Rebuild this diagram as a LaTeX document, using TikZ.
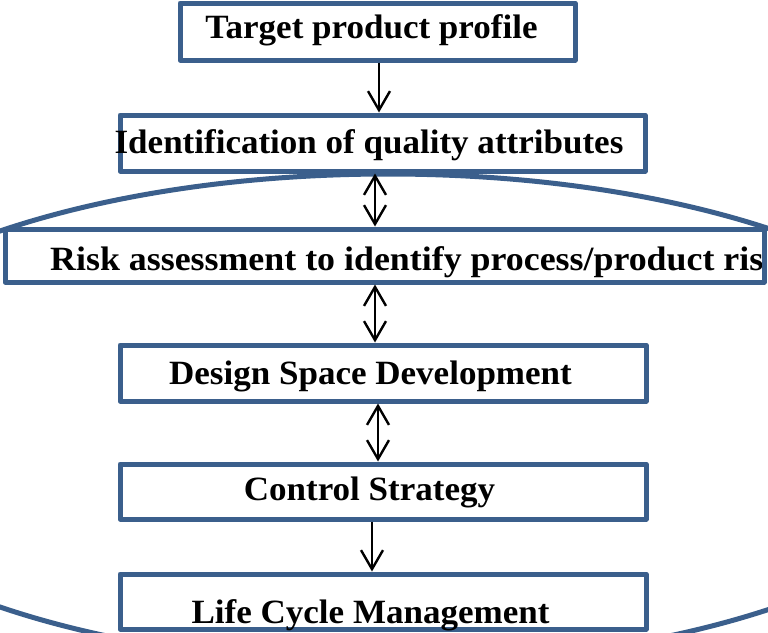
\documentclass[tikz,border=0pt]{standalone}
\usepackage{fontspec}
\newfontfamily\boxfont[FakeStretch=1.03]{Liberation Serif}
\newfontfamily\boxfontwide[FakeStretch=1.055]{Liberation Serif}
\usetikzlibrary{arrows.meta}
\definecolor{boxblue}{RGB}{59,95,140}
\begin{document}
\begin{tikzpicture}[x=1pt,y=-1pt,
 qbox/.style={draw=boxblue, line width=5pt, fill=white, inner sep=0pt, line join=round, rectangle},
 qtext/.style={font=\boxfont\bfseries\fontsize{34}{40}\selectfont, inner sep=0pt, text=black},
 arr/.style={draw=black, line width=2.4pt, -{Straight Barb[length=19pt,width=22pt]}},
 darr/.style={draw=black, line width=2.4pt, {Straight Barb[length=19pt,width=22pt]}-{Straight Barb[length=19pt,width=22pt]}}]
\useasboundingbox (0,0) rectangle (768,632);
\draw[boxblue, line width=5pt] (388,419) ellipse [x radius=605, y radius=245];
\node[qbox, minimum width=395pt, minimum height=57pt] (b1) at (377.5,31.5) {};
\node[qbox, minimum width=525pt, minimum height=56pt] (b2) at (382.5,143) {};
\node[qbox, minimum width=759pt, minimum height=53pt] (b3) at (384.5,255.5) {};
\node[qbox, minimum width=526pt, minimum height=56pt] (b4) at (383,373) {};
\node[qbox, minimum width=526pt, minimum height=55pt] (b5) at (383,491.5) {};
\node[qbox, minimum width=526pt, minimum height=55pt] (b6) at (383,601.5) {};
\node[qtext, anchor=base] (t1) at (371.5,38) {Target product profile};
\node[qtext, anchor=base] (t2) at (369,153) {Identification of quality attributes};
\begin{scope}
\clip (7,231) rectangle (761.5,280);
\node[qtext, font=\boxfontwide\bfseries\fontsize{34}{40}\selectfont, anchor=base west] (t3) at (50,270) {Risk assessment to identify process/product risk};
\end{scope}
\node[qtext, anchor=base] (t4) at (370.5,384) {Design Space Development};
\node[qtext, anchor=base] (t5) at (369.5,500) {Control Strategy};
\node[qtext, anchor=base] (t6) at (370.5,623) {Life Cycle Management};
\draw[arr] ([xshift=1.5pt]b1.south) -- ([xshift=-3.5pt]b2.north);
\draw[darr] ([xshift=-7.5pt]b2.south) -- ([xshift=-9.5pt]b3.north);
\draw[darr] ([xshift=-9.5pt]b3.south) -- ([xshift=-8pt]b4.north);
\draw[darr] ([xshift=-5pt]b4.south) -- ([xshift=-5pt]b5.north);
\draw[arr] ([xshift=-11pt]b5.south) -- ([xshift=-11pt]b6.north);
\end{tikzpicture}
\end{document}
